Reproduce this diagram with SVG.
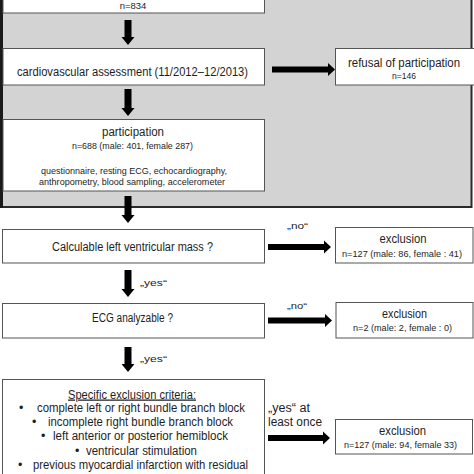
<svg xmlns="http://www.w3.org/2000/svg" width="474" height="474" viewBox="0 0 474 474">
<style>
text{font-family:"Liberation Sans",Arial,sans-serif;fill:#1e1e1e}
.m{font-size:12.5px}
.s{font-size:9.5px}
.c{text-anchor:middle}
.box{fill:#fff;stroke:#555;stroke-width:1}
.arr{fill:#000}
</style>
<rect x="1.5" y="-2" width="470" height="209" fill="#d3d3d3" stroke="#2a2a2a" stroke-width="2"/>
<rect x="0" y="-2" width="3" height="210" fill="#1a1a1a"/>
<g id="n834">
<rect class="box" x="3" y="-2" width="261.5" height="15"/>
<text class="s c" x="133" y="9">n=834</text>
</g>
<g id="assessment">
<rect class="box" x="3" y="48.5" width="261.5" height="36.5"/>
<text class="m c" x="132.5" y="75.5" textLength="231" lengthAdjust="spacingAndGlyphs">cardiovascular assessment (11/2012–12/2013)</text>
</g>
<g id="refusal">
<rect class="box" x="335.5" y="48.5" width="140" height="36.5"/>
<text class="m c" x="404" y="66.5" textLength="112" lengthAdjust="spacingAndGlyphs">refusal of participation</text>
<text class="s c" x="404" y="78.5" textLength="24" lengthAdjust="spacingAndGlyphs">n=146</text>
</g>
<g id="participation">
<rect class="box" x="3" y="119.5" width="261.5" height="71.5"/>
<text class="m c" x="133" y="136" textLength="62" lengthAdjust="spacingAndGlyphs">participation</text>
<text class="s c" x="132.5" y="148.5" textLength="121" lengthAdjust="spacingAndGlyphs">n=688 (male: 401, female 287)</text>
<text class="s c" x="134" y="174" textLength="186" lengthAdjust="spacingAndGlyphs">questionnaire, resting ECG, echocardiography,</text>
<text class="s c" x="132" y="184.5" textLength="186" lengthAdjust="spacingAndGlyphs">anthropometry, blood sampling, accelerometer</text>
</g>
<g id="lvmass">
<rect class="box" x="2.5" y="229.5" width="262" height="33.5"/>
<text class="m c" x="132.5" y="250.5" textLength="161" lengthAdjust="spacingAndGlyphs">Calculable left ventricular mass ?</text>
</g>
<g id="excl1">
<rect class="box" x="335.5" y="227.5" width="137.5" height="35.5"/>
<text class="m c" x="403" y="243" textLength="47" lengthAdjust="spacingAndGlyphs">exclusion</text>
<text class="s c" x="402" y="256.5" textLength="120" lengthAdjust="spacingAndGlyphs">n=127 (male: 86, female : 41)</text>
</g>
<g id="ecg">
<rect class="box" x="2.5" y="303.5" width="262" height="34.5"/>
<text class="m c" x="132.5" y="321.5" textLength="81" lengthAdjust="spacingAndGlyphs">ECG analyzable ?</text>
</g>
<g id="excl2">
<rect class="box" x="336" y="302.5" width="137" height="35.5"/>
<text class="m c" x="404.5" y="318" textLength="45" lengthAdjust="spacingAndGlyphs">exclusion</text>
<text class="s c" x="402.5" y="330.5" textLength="99" lengthAdjust="spacingAndGlyphs">n=2 (male: 2, female : 0)</text>
</g>
<g id="criteria">
<rect class="box" x="2.5" y="379.5" width="262" height="100"/>
<text class="m c" x="132" y="398.5" textLength="128" lengthAdjust="spacingAndGlyphs" text-decoration="underline">Specific exclusion criteria:</text>
<text class="m" x="19" y="411.5">•</text>
<text class="m" x="37" y="411.5" textLength="208" lengthAdjust="spacingAndGlyphs">complete left or right bundle branch block</text>
<text class="m" x="32" y="425.5">•</text>
<text class="m" x="48" y="425.5" textLength="185" lengthAdjust="spacingAndGlyphs">incomplete right bundle branch block</text>
<text class="m" x="41" y="440">•</text>
<text class="m" x="53" y="440" textLength="175" lengthAdjust="spacingAndGlyphs">left anterior or posterior hemiblock</text>
<text class="m" x="75" y="454.5">•</text>
<text class="m" x="86" y="454.5" textLength="111" lengthAdjust="spacingAndGlyphs">ventricular stimulation</text>
<text class="m" x="18" y="468.5">•</text>
<text class="m" x="33" y="468.5" textLength="215" lengthAdjust="spacingAndGlyphs">previous myocardial infarction with residual</text>
</g>
<g id="excl3">
<rect class="box" x="335.5" y="419.5" width="137" height="34.5"/>
<text class="m c" x="402.5" y="435" textLength="47" lengthAdjust="spacingAndGlyphs">exclusion</text>
<text class="s c" x="400.5" y="447.5" textLength="113" lengthAdjust="spacingAndGlyphs">n=127 (male: 94, female 33)</text>
</g>
<g id="connectors">
<polygon class="arr" points="124.5,20 131.5,20 131.5,37 134.5,37 128,45 121.5,37 124.5,37"/>
<polygon class="arr" points="124.5,89 131.5,89 131.5,108 134.5,108 128,116 121.5,108 124.5,108"/>
<polygon class="arr" points="124.5,196 131.5,196 131.5,215 134.5,215 128,223 121.5,215 124.5,215"/>
<polygon class="arr" points="124.5,270 131.5,270 131.5,289 134.5,289 128,297 121.5,289 124.5,289"/>
<polygon class="arr" points="124.5,347 131.5,347 131.5,364 134.5,364 128,372 121.5,364 124.5,364"/>
<polygon class="arr" points="272,66.5 328,66.5 328,63 335,69.5 328,76 328,72.5 272,72.5"/>
<polygon class="arr" points="268,244 324,244 324,240.5 331,247 324,253.5 324,250 268,250"/>
<polygon class="arr" points="268,317.5 325,317.5 325,314 332,320.5 325,327 325,323.5 268,323.5"/>
<polygon class="arr" points="268,435 323,435 323,431.5 330,438 323,444.5 323,441 268,441"/>
<text class="s" x="287" y="229" textLength="21" lengthAdjust="spacingAndGlyphs">„no“</text>
<text class="s" x="287" y="309" textLength="20" lengthAdjust="spacingAndGlyphs">„no“</text>
<text class="s" x="140" y="285.5" textLength="27" lengthAdjust="spacingAndGlyphs">„yes“</text>
<text class="s" x="140" y="361.5" textLength="27" lengthAdjust="spacingAndGlyphs">„yes“</text>
<text class="m" x="268" y="411.5" textLength="42" lengthAdjust="spacingAndGlyphs">„yes“ at</text>
<text class="m" x="268" y="426" textLength="54" lengthAdjust="spacingAndGlyphs">least once</text>
</g>
</svg>
